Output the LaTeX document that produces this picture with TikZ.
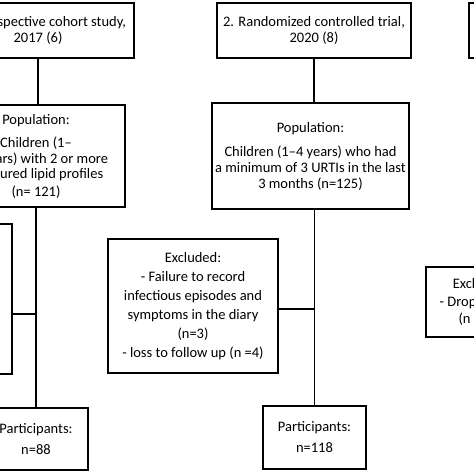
\documentclass[tikz,border=0pt]{standalone}
\usepackage{fontspec}
\setmainfont{Carlito}
\usetikzlibrary{positioning}
\tikzset{
  every picture/.style={line width=1.3pt},
  box/.style={draw, align=center, inner sep=2pt, line width=1.7pt, font=\fontsize{14.5}{16}\selectfont},
  link/.style={draw, line width=1.3pt},
}

\begin{document}
\begin{tikzpicture}[x=1pt, y=-1pt, b/.style 2 args={box, minimum width=#1, minimum height=#2}]
  \useasboundingbox (0,0) rectangle (474,474);
  \clip (0,0) rectangle (474,474);
  % study 1
  \node[b={192pt}{55pt}] (t1) at (38,30.5) {1. Retrospective cohort study,\\2017 (6)};
  \node[b={178pt}{102pt}, font=\fontsize{14.5}{15.5}\selectfont] (p1) at (36,156) {Population:\\[8pt]Children (1--\\18 years) with 2 or more\\measured lipid profiles\\[2pt](n= 121)};
  \node[b={144pt}{150pt}] (ex1) at (-60,299) {};
  \node[b={104pt}{62pt}, font=\fontsize{14.5}{21}\selectfont] (part1) at (36,439) {Participants:\\n=88};
  \draw[link] (t1) -- (t1 |- p1.north);
  \draw[link] (p1.south -| part1) -- (part1);
  \draw[link] ([yshift=-15pt]ex1.east) -- ([yshift=-15pt]ex1.east -| part1);
  % study 2
  \node[b={194pt}{55pt}] (t2) at (314,30.5) {2. Randomized controlled trial,\\2020 (8)};
  \node[b={197pt}{106pt}] (p2) at (310.5,156) {Population:\\[8pt]Children (1--4 years) who had\\a minimum of 3 URTIs in the last\\3 months (n=125)};
  \node[b={170pt}{134pt}, font=\fontsize{14.5}{19}\selectfont] (ex2) at (193,306) {Excluded:\\- Failure to record\\infectious episodes and\\symptoms in the diary\\(n=3)\\- loss to follow up (n =4)};
  \node[b={103pt}{63pt}, font=\fontsize{14.5}{21}\selectfont] (part2) at (314.5,437.5) {Participants:\\n=118};
  \draw[link] (t2) -- (t2 |- p2.north);
  \draw[link] (p2.south -| part2) -- (part2);
  \draw[link] ([yshift=-3pt]ex2.east) -- ([yshift=-3pt]ex2.east -| part2);
  % study 3
  \node[b={194pt}{55pt}] (t3) at (566,30.5) {};
  \node[b={110pt}{70pt}, font=\fontsize{14.5}{17.5}\selectfont] (ex3) at (481,302) {Excluded:\\- Dropped out\\(n = 12)};
\end{tikzpicture}
\end{document}
